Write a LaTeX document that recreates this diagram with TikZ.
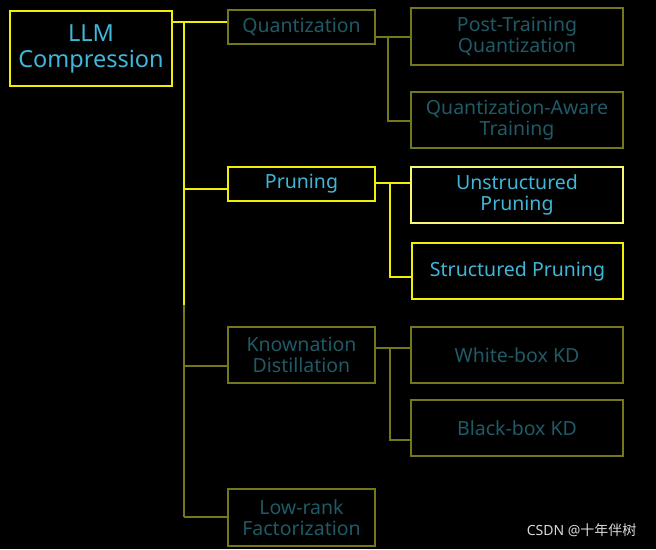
\documentclass[tikz,border=0pt]{standalone}
\usepackage{fontspec}
\setmainfont{Noto Sans}
\newfontfamily\cjk{Noto Sans CJK SC}
\begin{document}
\definecolor{yb}{HTML}{F0F000}
\definecolor{yd}{HTML}{76761A}
\definecolor{tb}{HTML}{40B6D8}
\definecolor{td}{HTML}{1F5A66}
\begin{tikzpicture}[x=1pt,y=-1pt,
 box/.style={draw,line width=1.3pt,inner sep=0pt,align=center,font=\fontsize{19.5}{21}\selectfont},
 on/.style={box,draw=yb,text=tb},
 off/.style={box,draw=yd,text=td},
 ln/.style={line width=1.6pt}]
\fill[black] (0,0) rectangle (656,549);
\useasboundingbox (0,0) rectangle (656,549);
\node[on,line width=2.5pt,minimum width=162,minimum height=75,font=\fontsize{23.5}{26}\selectfont] (root) at (91,48.5) {LLM\\Compression};
\node[off,minimum width=147,minimum height=34] (q) at (301.5,27) {Quantization};
\node[on,minimum width=147,minimum height=34] (p) at (301.5,184) {Pruning};
\node[off,minimum width=147,minimum height=56] (kd) at (301.5,355) {Knownation\\Distillation};
\node[off,minimum width=147,minimum height=57] (lr) at (301.5,517.5) {Low-rank\\Factorization};
\node[off,minimum width=212,minimum height=57] (ptq) at (517,36.5) {Post-Training\\Quantization};
\node[off,minimum width=212,minimum height=56] (qat) at (517,120) {Quantization-Aware\\Training};
\node[on,draw=yb!55!white,minimum width=212,minimum height=56] (up) at (517,195) {Unstructured\\Pruning};
\node[on,minimum width=211,minimum height=56] (sp) at (517.5,271) {Structured Pruning};
\node[off,minimum width=212,minimum height=56] (wb) at (517,355) {White-box KD};
\node[off,minimum width=212,minimum height=56] (bb) at (517,428) {Black-box KD};
\coordinate (t0) at (184,22);
\coordinate (tm) at (184,305);
\coordinate (t1) at (184,517);
\draw[ln,yb] (root.east|-t0) -- (q.west|-t0);
\draw[ln,yb] (t0) -- (tm);
\draw[ln,yd] (tm) -- (t1);
\draw[ln,yb] (184,189) -- (p.west|-0,189);
\draw[ln,yd] (184,366) -- (kd.west|-0,366);
\draw[ln,yd] (t1) -- (lr.west|-t1);
\draw[ln,yd] (q.east|-0,37) -- (ptq.west|-0,37);
\draw[ln,yd] (388,37) |- (qat.west|-0,121);
\draw[ln,yb] (p.east|-0,183) -- (up.west|-0,183);
\draw[ln,yb] (390,183) |- (sp.west|-0,277);
\draw[ln,yd] (kd.east|-0,348) -- (wb.west|-0,348);
\draw[ln,yd] (390,348) |- (bb.west|-0,440);
\node[text=white!85!black,font=\fontsize{14}{14}\selectfont,anchor=east] (wm) at (640,530) {CSDN @{\cjk 十年伴树}};
\end{tikzpicture}
\end{document}
